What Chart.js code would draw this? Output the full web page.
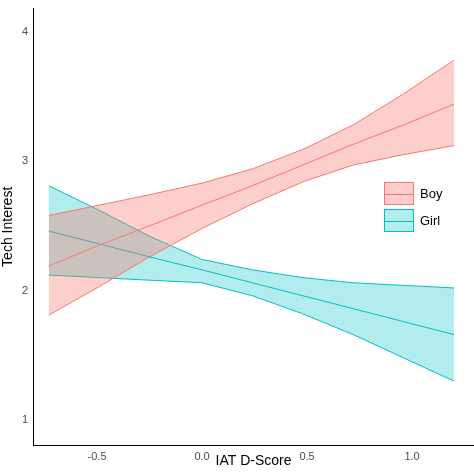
<!DOCTYPE html>
<html><head><script src="https://cdn.jsdelivr.net/npm/chart.js@4"></script>
<style>body{margin:0;background:#fff}#w{position:relative;width:474px;height:474px}
#lg{position:absolute;left:384px;top:180px;font:13px "Liberation Sans",Arial,sans-serif;color:#000}
.r{display:flex;align-items:center;height:27px}.k{width:30px;height:23px;margin-right:6px;position:relative;box-sizing:border-box}
.k i{position:absolute;left:0;right:0;top:11px;height:1px}</style></head>
<body><div id="w"><canvas id="c" width="474" height="474"></canvas>
<div id="lg"><div class="r"><div class="k" style="background:rgba(248,118,109,0.35);border:1px solid #F8766D"><i style="background:#F8766D"></i></div>Boy</div>
<div class="r"><div class="k" style="background:rgba(0,191,196,0.3);border:1px solid #00BFC4"><i style="background:#00BFC4"></i></div>Girl</div></div></div>
<script>
const xs=[-0.73,-0.49,-0.25,0,0.24,0.48,0.72,0.96,1.2];
const boyFit=[2.19,2.35,2.5,2.66,2.81,2.97,3.13,3.28,3.44];
const boyHi=[2.58,2.66,2.74,2.83,2.94,3.09,3.28,3.52,3.78];
const boyLo=[1.81,2.03,2.26,2.48,2.67,2.84,2.97,3.05,3.12];
const girlFit=[2.46,2.36,2.26,2.16,2.06,1.96,1.86,1.76,1.66];
const girlHi=[2.81,2.62,2.42,2.24,2.16,2.1,2.06,2.04,2.02];
const girlLo=[2.12,2.1,2.08,2.06,1.96,1.82,1.66,1.48,1.30];
const xTicks=[-0.5,0,0.5,1];const yTicks=[1,2,3,4];
const P=a=>a.map((y,i)=>({x:xs[i],y}));
const B='#F8766D',G='#00BFC4';
const ds=(d,c,f,fc)=>({data:P(d),borderColor:c,borderWidth:1,pointRadius:0,fill:f,backgroundColor:fc,tension:0});
new Chart(document.getElementById('c'),{type:'line',data:{datasets:[
ds(boyHi,B,'+1','rgba(248,118,109,0.35)'),ds(boyLo,B,false),ds(boyFit,B,false),
ds(girlHi,G,'+1','rgba(0,191,196,0.3)'),ds(girlLo,G,false),ds(girlFit,G,false)]},
options:{animation:false,responsive:false,layout:{padding:0},plugins:{legend:{display:false},tooltip:{enabled:false}},
scales:{x:{type:'linear',min:-0.805,max:1.295,afterBuildTicks:a=>{a.ticks=xTicks.map(v=>({value:v}))},afterFit:a=>{a.height=29},
ticks:{callback:v=>v.toFixed(1),color:'#4d4d4d',font:{size:11,family:'Liberation Sans'},padding:2},grid:{display:false,drawTicks:true,tickLength:3},border:{color:'#000'},
title:{display:true,text:'IAT D-Score',font:{size:14,family:'Liberation Sans'},color:'#000',padding:{top:6}}},
y:{min:0.807,max:4.178,afterBuildTicks:a=>{a.ticks=yTicks.map(v=>({value:v}))},afterFit:a=>{a.width=33},
ticks:{color:'#4d4d4d',font:{size:11,family:'Liberation Sans'},padding:2},grid:{display:false,tickLength:3},border:{color:'#000'},
title:{display:true,text:'Tech Interest',font:{size:14,family:'Liberation Sans'},color:'#000',padding:0}}}}});
</script></body></html>
